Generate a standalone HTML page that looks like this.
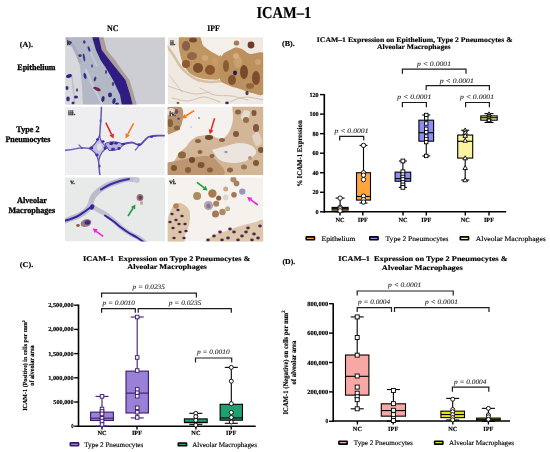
<!DOCTYPE html>
<html><head><meta charset="utf-8"><style>
html,body{margin:0;padding:0;background:#fff;overflow:hidden;width:550px;height:452px;}
svg{display:block;}
text{white-space:pre;text-rendering:geometricPrecision;}
</style></head><body>
<svg width="550" height="452" viewBox="0 0 550 452">
<defs><clipPath id="cp_i"><rect x="65.3" y="37.2" width="99.89999999999999" height="67.3"/></clipPath><clipPath id="cp_ii"><rect x="167.6" y="37.2" width="95.6" height="67.3"/></clipPath><clipPath id="cp_iii"><rect x="65.0" y="106.7" width="99.80000000000001" height="68.3"/></clipPath><clipPath id="cp_iv"><rect x="167.6" y="106.7" width="95.6" height="68.3"/></clipPath><clipPath id="cp_v"><rect x="65.0" y="177.3" width="100.30000000000001" height="64.29999999999998"/></clipPath><clipPath id="cp_vi"><rect x="167.6" y="177.3" width="95.6" height="64.29999999999998"/></clipPath><filter id="bl" x="-20%" y="-20%" width="140%" height="140%"><feGaussianBlur stdDeviation="0.7"/></filter><filter id="bl2" x="-20%" y="-20%" width="140%" height="140%"><feGaussianBlur stdDeviation="1.6"/></filter><filter id="bl3" x="-20%" y="-20%" width="140%" height="140%"><feGaussianBlur stdDeviation="0.4"/></filter></defs>
<rect width="550" height="452" fill="#fff"/>
<text x="256.4" y="18.3" font-size="16.5" text-anchor="start" font-weight="bold" font-style="normal" fill="#000" font-family='"Liberation Serif", serif' stroke="#000" stroke-width="0.16" textLength="54.8" lengthAdjust="spacingAndGlyphs" >ICAM–1</text>
<text x="107" y="31.1" font-size="8.6" text-anchor="start" font-weight="bold" font-style="normal" fill="#000" font-family='"Liberation Serif", serif' stroke="#000" stroke-width="0.16" textLength="11.6" lengthAdjust="spacingAndGlyphs" >NC</text>
<text x="207.2" y="31.1" font-size="8.6" text-anchor="start" font-weight="bold" font-style="normal" fill="#000" font-family='"Liberation Serif", serif' stroke="#000" stroke-width="0.16" textLength="12.5" lengthAdjust="spacingAndGlyphs" >IPF</text>
<text x="19.8" y="46.8" font-size="8" text-anchor="start" font-weight="bold" font-style="normal" fill="#000" font-family='"Liberation Serif", serif' stroke="#000" stroke-width="0.16" textLength="13.2" lengthAdjust="spacingAndGlyphs" >(A).</text>
<text x="17.3" y="69.7" font-size="8.6" text-anchor="start" font-weight="bold" font-style="normal" fill="#000" font-family='"Liberation Serif", serif' stroke="#000" stroke-width="0.3" textLength="38.2" lengthAdjust="spacingAndGlyphs" >Epithelium</text>
<text x="16.3" y="131.7" font-size="8.6" text-anchor="start" font-weight="bold" font-style="normal" fill="#000" font-family='"Liberation Serif", serif' stroke="#000" stroke-width="0.3" textLength="23.2" lengthAdjust="spacingAndGlyphs" >Type 2</text>
<text x="5.4" y="141.5" font-size="8.6" text-anchor="start" font-weight="bold" font-style="normal" fill="#000" font-family='"Liberation Serif", serif' stroke="#000" stroke-width="0.3" textLength="44.9" lengthAdjust="spacingAndGlyphs" >Pneumocytes</text>
<text x="17" y="202.5" font-size="8.6" text-anchor="start" font-weight="bold" font-style="normal" fill="#000" font-family='"Liberation Serif", serif' stroke="#000" stroke-width="0.3" textLength="30" lengthAdjust="spacingAndGlyphs" >Alveolar</text>
<text x="8.4" y="213.4" font-size="8.6" text-anchor="start" font-weight="bold" font-style="normal" fill="#000" font-family='"Liberation Serif", serif' stroke="#000" stroke-width="0.3" textLength="46.7" lengthAdjust="spacingAndGlyphs" >Macrophages</text>
<g clip-path="url(#cp_i)"><rect x="65.3" y="37.2" width="99.89999999999999" height="67.3" fill="#cdced3"/><g filter="url(#bl)">
<path d="M64.0,46.0 L64.0,106.0 L83.0,106.0 L82.5,96.0 L82.0,86.0 L81.0,76.0 L80.0,66.0 L78.0,56.0 L72.0,48.0 L66.0,42.0 Z" fill="#d6d8dc" opacity="1"/>
<path d="M64.0,36.0 L70.0,42.0 L75.0,48.0 L78.0,56.0 L80.0,66.0 L81.0,76.0 L82.0,86.0 L82.5,96.0 L83.0,106.0 L122.0,106.0 L120.0,95.0 L113.0,80.0 L105.9,68.0 L100.5,60.0 L95.9,50.0 L91.8,36.0 Z" fill="#b3b8c7" opacity="1"/>
<path d="M98.6,36.0 L101.8,50.0 L109.5,60.0 L115.9,68.0 L125.5,80.0 L130.3,95.0 L133.0,106.0 L137.0,106.0 L134.0,95.0 L129.5,80.0 L120.5,68.0 L115.0,60.0 L106.8,50.0 L103.2,36.0 Z" fill="#aa9c98" opacity="1"/>
<path d="M91.8,36.0 L95.9,50.0 L100.5,60.0 L105.9,68.0 L113.0,80.0 L120.0,95.0 L122.0,106.0 L133.0,106.0 L130.3,95.0 L125.5,80.0 L115.9,68.0 L109.5,60.0 L101.8,50.0 L98.6,36.0 Z" fill="#2d1c80" opacity="1"/>
<path d="M67.0,39.0 C68.0,40.2 71.3,43.5 73.0,46.0 C74.7,48.5 75.8,51.3 77.0,54.0 C78.2,56.7 79.5,60.7 80.0,62.0" fill="none" stroke="#a6acbe" stroke-width="3" stroke-linecap="round" stroke-linejoin="round" opacity="1"/>
<path d="M72.0,76.0 C72.2,77.7 72.7,82.7 73.0,86.0 C73.3,89.3 73.7,92.7 74.0,96.0 C74.3,99.3 74.8,104.3 75.0,106.0" fill="none" stroke="#bcc0cc" stroke-width="1.5" stroke-linecap="round" stroke-linejoin="round" opacity="1"/>
<path d="M86.0,70.0 C86.8,72.0 89.2,78.0 91.0,82.0 C92.8,86.0 95.2,90.3 97.0,94.0 C98.8,97.7 101.2,102.3 102.0,104.0" fill="none" stroke="#c6cad6" stroke-width="2.2" stroke-linecap="round" stroke-linejoin="round" opacity="1"/>
<path d="M90.0,50.0 C90.5,51.3 91.8,55.3 93.0,58.0 C94.2,60.7 96.3,64.7 97.0,66.0" fill="none" stroke="#c6cad6" stroke-width="1.6" stroke-linecap="round" stroke-linejoin="round" opacity="1"/>
<ellipse cx="68" cy="99" rx="1.8" ry="2.4" fill="#3a2a88" opacity="1" transform="rotate(0 68 99)"/>
<ellipse cx="73" cy="103" rx="1.5" ry="1.5" fill="#3a2a88" opacity="1" transform="rotate(0 73 103)"/>
<ellipse cx="77" cy="90" rx="1.2" ry="1.8" fill="#5a4a90" opacity="1" transform="rotate(0 77 90)"/>
<ellipse cx="69.5" cy="42.5" rx="2.4" ry="1.6" fill="#4a3a78" opacity="1" transform="rotate(0 69.5 42.5)"/>
<ellipse cx="84.3" cy="42" rx="1.2" ry="1.8" fill="#3a2a88" opacity="1" transform="rotate(0 84.3 42)"/>
<ellipse cx="80" cy="55.5" rx="1.6" ry="1.6" fill="#5a2a68" opacity="1" transform="rotate(0 80 55.5)"/>
<ellipse cx="84" cy="57.5" rx="1" ry="4" fill="#3a34a0" opacity="1" transform="rotate(-10 84 57.5)"/>
<ellipse cx="69" cy="76" rx="3" ry="1.8" fill="#2d2085" opacity="1" transform="rotate(-20 69 76)"/>
<ellipse cx="85" cy="76" rx="1.4" ry="3" fill="#35288e" opacity="1" transform="rotate(-15 85 76)"/>
<ellipse cx="97" cy="89" rx="4" ry="1.6" fill="#6a2848" opacity="1" transform="rotate(25 97 89)"/>
<ellipse cx="103" cy="99" rx="1.6" ry="3" fill="#3a2070" opacity="1" transform="rotate(10 103 99)"/>
<ellipse cx="110" cy="95" rx="2" ry="2.4" fill="#2d2a8e" opacity="1" transform="rotate(0 110 95)"/>
<ellipse cx="76" cy="97" rx="2" ry="1.6" fill="#2e2880" opacity="1" transform="rotate(0 76 97)"/>
<ellipse cx="67" cy="88" rx="1.5" ry="2" fill="#30288a" opacity="1" transform="rotate(0 67 88)"/>
<ellipse cx="89" cy="49" rx="1.1" ry="3" fill="#3d2d90" opacity="1" transform="rotate(-20 89 49)"/>
<ellipse cx="95" cy="79" rx="1.2" ry="2.5" fill="#46368e" opacity="1" transform="rotate(20 95 79)"/>
<ellipse cx="114" cy="101" rx="1.6" ry="3" fill="#2e2690" opacity="1" transform="rotate(15 114 101)"/>
<ellipse cx="117" cy="104" rx="2" ry="1.5" fill="#2e2690" opacity="1" transform="rotate(0 117 104)"/>
<ellipse cx="113" cy="84" rx="1.2" ry="2" fill="#4a3a8e" opacity="1" transform="rotate(0 113 84)"/>
<ellipse cx="106" cy="72" rx="1" ry="2" fill="#4a3a8e" opacity="1" transform="rotate(0 106 72)"/>
<ellipse cx="92" cy="66" rx="1" ry="1.8" fill="#5a4a9a" opacity="1" transform="rotate(0 92 66)"/>
</g></g>
<g clip-path="url(#cp_ii)"><rect x="167.6" y="37.2" width="95.6" height="67.3" fill="#efe9e2"/><g filter="url(#bl)">
<path d="M167.0,46.0 C168.2,47.7 171.8,52.7 174.0,56.0 C176.2,59.3 177.7,63.0 180.0,66.0 C182.3,69.0 185.0,71.7 188.0,74.0 C191.0,76.3 194.3,78.7 198.0,80.0 C201.7,81.3 206.0,81.8 210.0,82.0 C214.0,82.2 220.0,81.2 222.0,81.0" fill="none" stroke="#d8c0a4" stroke-width="2.5" stroke-linecap="round" stroke-linejoin="round" opacity="1"/>
<path d="M179.0,36.0 C182.5,36.0 196.0,34.5 200.0,36.0 C204.0,37.5 201.0,42.3 203.0,45.0 C205.0,47.7 209.0,50.2 212.0,52.0 C215.0,53.8 219.5,51.8 221.0,56.0 C222.5,60.2 222.7,73.1 221.0,77.0 C219.3,80.9 214.8,79.4 211.0,79.5 C207.2,79.6 201.8,78.8 198.0,77.5 C194.2,76.2 190.7,74.2 188.0,71.5 C185.3,68.8 183.5,64.9 182.0,61.0 C180.5,57.1 179.5,52.2 179.0,48.0 C178.5,43.8 179.0,38.0 179.0,36.0 Z" fill="#bf9562" opacity="1"/>
<path d="M221.0,57.0 C221.8,56.0 224.0,52.7 226.0,51.0 C228.0,49.3 230.3,47.3 233.0,47.0 C235.7,46.7 239.2,47.8 242.0,49.0 C244.8,50.2 246.2,53.0 250.0,54.0 C253.8,55.0 262.5,48.7 265.0,55.0 C267.5,61.3 267.2,85.7 265.0,92.0 C262.8,98.3 256.2,93.5 252.0,93.0 C247.8,92.5 244.0,90.3 240.0,89.0 C236.0,87.7 231.3,86.7 228.0,85.0 C224.7,83.3 221.2,83.7 220.0,79.0 C218.8,74.3 220.8,60.7 221.0,57.0 Z" fill="#bb9160" opacity="1"/>
<path d="M200.0,36.0 L242.0,36.0 L238.0,46.0 L230.0,50.0 L224.0,53.0 L219.0,56.0 L212.0,52.0 L203.0,45.0 Z" fill="#f3efea" opacity="1"/>
<ellipse cx="186" cy="46" rx="4" ry="5" fill="#8a5e48" opacity="1" transform="rotate(0 186 46)"/>
<ellipse cx="192" cy="56" rx="5" ry="4" fill="#946646" opacity="1" transform="rotate(0 192 56)"/>
<ellipse cx="186" cy="64" rx="4" ry="4" fill="#8e5a36" opacity="1" transform="rotate(0 186 64)"/>
<ellipse cx="198" cy="68" rx="5" ry="5" fill="#7e4e2e" opacity="1" transform="rotate(0 198 68)"/>
<ellipse cx="210" cy="70" rx="5" ry="5" fill="#8a5632" opacity="1" transform="rotate(0 210 70)"/>
<ellipse cx="205" cy="58" rx="3" ry="3" fill="#d2a672" opacity="1" transform="rotate(0 205 58)"/>
<ellipse cx="215" cy="62" rx="3" ry="4" fill="#c89a66" opacity="1" transform="rotate(0 215 62)"/>
<ellipse cx="193" cy="40" rx="4" ry="2.5" fill="#7a4a30" opacity="1" transform="rotate(0 193 40)"/>
<ellipse cx="226" cy="66" rx="3" ry="6" fill="#8a5a36" opacity="1" transform="rotate(0 226 66)"/>
<ellipse cx="238" cy="62" rx="4" ry="6" fill="#c9a070" opacity="1" transform="rotate(0 238 62)"/>
<ellipse cx="244" cy="72" rx="4" ry="7" fill="#7a4a2c" opacity="1" transform="rotate(0 244 72)"/>
<ellipse cx="256" cy="78" rx="4" ry="7" fill="#7e4e2e" opacity="1" transform="rotate(0 256 78)"/>
<ellipse cx="232" cy="80" rx="4" ry="5" fill="#84522e" opacity="1" transform="rotate(0 232 80)"/>
<ellipse cx="250" cy="86" rx="4" ry="3" fill="#94663e" opacity="1" transform="rotate(0 250 86)"/>
<ellipse cx="236" cy="56" rx="3" ry="3" fill="#d6ae78" opacity="1" transform="rotate(0 236 56)"/>
<ellipse cx="258" cy="62" rx="3" ry="3" fill="#d0a470" opacity="1" transform="rotate(0 258 62)"/>
<ellipse cx="251" cy="45" rx="3.4" ry="3.4" fill="#6e3a28" opacity="1" transform="rotate(0 251 45)"/>
<ellipse cx="236.5" cy="43" rx="2.8" ry="2.6" fill="#a87a50" opacity="1" transform="rotate(0 236.5 43)"/>
<ellipse cx="235" cy="73" rx="2" ry="2.4" fill="#241c58" opacity="1" transform="rotate(0 235 73)"/>
<path d="M168.0,86.0 C170.0,86.7 175.5,88.7 180.0,90.0 C184.5,91.3 190.0,93.7 195.0,94.0 C200.0,94.3 207.5,92.3 210.0,92.0" fill="none" stroke="#d0c0b4" stroke-width="1.0" stroke-linecap="round" stroke-linejoin="round" opacity="1"/>
<path d="M172.0,98.0 C174.7,98.5 182.7,101.2 188.0,101.0 C193.3,100.8 198.7,96.8 204.0,97.0 C209.3,97.2 217.3,101.2 220.0,102.0" fill="none" stroke="#d0c0b4" stroke-width="1.0" stroke-linecap="round" stroke-linejoin="round" opacity="1"/>
<path d="M200.0,88.0 C202.5,89.2 209.7,93.7 215.0,95.0 C220.3,96.3 226.5,95.2 232.0,96.0 C237.5,96.8 245.3,99.3 248.0,100.0" fill="none" stroke="#d0c0b4" stroke-width="1.0" stroke-linecap="round" stroke-linejoin="round" opacity="1"/>
<path d="M230.0,102.0 C232.5,101.2 239.3,97.3 245.0,97.0 C250.7,96.7 260.8,99.5 264.0,100.0" fill="none" stroke="#d0c0b4" stroke-width="1.0" stroke-linecap="round" stroke-linejoin="round" opacity="1"/>
<path d="M170.0,76.0 C171.0,77.3 174.0,81.3 176.0,84.0 C178.0,86.7 181.0,90.7 182.0,92.0" fill="none" stroke="#d0c0b4" stroke-width="1.0" stroke-linecap="round" stroke-linejoin="round" opacity="1"/>
<ellipse cx="247" cy="93" rx="1.6" ry="2.2" fill="#5a3a4a" opacity="1" transform="rotate(0 247 93)"/>
<ellipse cx="227" cy="103" rx="1.8" ry="1.4" fill="#3a3060" opacity="1" transform="rotate(0 227 103)"/>
<ellipse cx="178" cy="103" rx="1.4" ry="1.2" fill="#8a6040" opacity="1" transform="rotate(0 178 103)"/>
</g></g>
<g clip-path="url(#cp_iii)"><rect x="65.0" y="106.7" width="99.80000000000001" height="68.3" fill="#eeeef0"/><g filter="url(#bl)">
<path d="M101.5,106.0 C101.4,108.0 101.2,114.3 101.0,118.0 C100.8,121.7 100.4,124.8 100.2,128.0 C100.0,131.2 99.7,135.5 99.6,137.0" fill="none" stroke="#6a5ab0" stroke-width="1.5" stroke-linecap="round" stroke-linejoin="round" opacity="1"/>
<path d="M64.0,150.5 C65.3,150.3 69.3,149.9 72.0,149.5 C74.7,149.1 77.7,148.2 80.0,148.0 C82.3,147.8 84.3,147.9 86.0,148.0 C87.7,148.1 89.3,148.4 90.0,148.5" fill="none" stroke="#7a6ab8" stroke-width="1.6" stroke-linecap="round" stroke-linejoin="round" opacity="1"/>
<path d="M81.0,147.0 C80.7,146.7 79.3,145.3 79.0,145.0" fill="none" stroke="#7a6ab8" stroke-width="1.2" stroke-linecap="round" stroke-linejoin="round" opacity="1"/>
<path d="M99.5,135.5 Q101,144 108,147.5 Q101,150.5 98.5,161 Q96,151 89,148.5 Q96,145 99.5,135.5 Z" fill="#c4c0dc" stroke="#5a4eb0" stroke-width="1.1"/>
<ellipse cx="99.5" cy="147" rx="2.6" ry="3.6" fill="#e0deea" opacity="1" transform="rotate(0 99.5 147)"/>
<path d="M105,143.5 Q114,139.5 124,144.5 Q118,151.5 109,150.5 Z" fill="#bab4da" stroke="#4a40a8" stroke-width="1"/>
<path d="M122.0,144.5 C123.0,144.2 126.2,143.3 128.0,143.0 C129.8,142.7 130.7,142.3 132.6,142.6 C134.5,142.9 137.7,145.3 139.6,145.0 C141.5,144.7 142.5,142.3 144.0,141.0 C145.5,139.7 146.9,137.8 148.4,137.0 C149.9,136.2 151.4,136.2 153.0,136.0 C154.6,135.8 155.5,135.8 157.7,135.7 C159.9,135.6 164.6,135.7 166.0,135.7" fill="none" stroke="#6048b0" stroke-width="1.8" stroke-linecap="round" stroke-linejoin="round" opacity="1"/>
<path d="M139.6,145.0 C139.2,145.4 138.2,146.7 137.5,147.5 C136.8,148.3 135.8,149.6 135.4,150.0" fill="none" stroke="#8070c0" stroke-width="1.4" stroke-linecap="round" stroke-linejoin="round" opacity="1"/>
<path d="M98.5,160.0 C98.6,161.0 98.8,164.0 99.0,166.0 C99.2,168.0 99.3,170.3 99.5,172.0 C99.7,173.7 99.9,175.3 100.0,176.0" fill="none" stroke="#6a5ab0" stroke-width="1.6" stroke-linecap="round" stroke-linejoin="round" opacity="1"/>
<ellipse cx="97.5" cy="139.5" rx="1.5" ry="1.3" fill="#3028a8" opacity="1" transform="rotate(0 97.5 139.5)"/>
<ellipse cx="103" cy="141.5" rx="1.6" ry="1.3" fill="#3028a8" opacity="1" transform="rotate(0 103 141.5)"/>
<ellipse cx="91.5" cy="148" rx="1.8" ry="1.4" fill="#3434b0" opacity="1" transform="rotate(0 91.5 148)"/>
<ellipse cx="105" cy="148" rx="1.4" ry="1.8" fill="#2c2ca8" opacity="1" transform="rotate(0 105 148)"/>
<ellipse cx="97" cy="155" rx="1.6" ry="1.4" fill="#3434b0" opacity="1" transform="rotate(0 97 155)"/>
<ellipse cx="111.5" cy="143.5" rx="2.4" ry="1.4" fill="#2a22a0" opacity="1" transform="rotate(-10 111.5 143.5)"/>
<ellipse cx="116" cy="143.2" rx="1.8" ry="1.2" fill="#3028a8" opacity="1" transform="rotate(0 116 143.2)"/>
<ellipse cx="113" cy="149" rx="2" ry="1.3" fill="#3a30ac" opacity="1" transform="rotate(0 113 149)"/>
<ellipse cx="119" cy="148.5" rx="1.6" ry="1.4" fill="#3028a8" opacity="1" transform="rotate(0 119 148.5)"/>
<ellipse cx="123.5" cy="144" rx="1.6" ry="1.2" fill="#3a30ac" opacity="1" transform="rotate(0 123.5 144)"/>
<ellipse cx="139" cy="144.5" rx="1.6" ry="1.2" fill="#3a30ac" opacity="1" transform="rotate(0 139 144.5)"/>
<ellipse cx="151.5" cy="136.8" rx="1.8" ry="1.1" fill="#3a30ac" opacity="1" transform="rotate(0 151.5 136.8)"/>
<ellipse cx="99.5" cy="166" rx="1.1" ry="1.6" fill="#4a40b0" opacity="1" transform="rotate(0 99.5 166)"/>
<ellipse cx="82" cy="148" rx="1.2" ry="1" fill="#5050b8" opacity="1" transform="rotate(0 82 148)"/>
<ellipse cx="100.5" cy="121" rx="0.9" ry="1.4" fill="#5a50b8" opacity="1" transform="rotate(0 100.5 121)"/>
</g></g>
<line x1="105.8" y1="122.6" x2="111.6" y2="134.6" stroke="#e8231f" stroke-width="1.5"/>
<path d="M113.6,138.6 L109.4,135.6 L113.9,133.5 Z" fill="#e8231f"/>
<line x1="133.6" y1="123.4" x2="127.7" y2="134.4" stroke="#f27a1e" stroke-width="1.5"/>
<path d="M125.6,138.4 L125.5,133.3 L129.9,135.6 Z" fill="#f27a1e"/>
<text x="68.0" y="114.7" font-size="6.9" font-weight="bold" fill="#2a2a2a" stroke="#2a2a2a" stroke-width="0.25" font-family='"Liberation Serif", serif'>iii.</text>
<g clip-path="url(#cp_iv)"><rect x="167.6" y="106.7" width="95.6" height="68.3" fill="#f4f1ee"/><g filter="url(#bl)">
<path d="M167.0,107.0 C169.3,107.0 178.3,105.3 181.0,107.0 C183.7,108.7 183.2,113.5 183.0,117.0 C182.8,120.5 181.8,125.3 180.0,128.0 C178.2,130.7 174.2,132.3 172.0,133.0 C169.8,133.7 167.8,136.3 167.0,132.0 C166.2,127.7 167.0,111.2 167.0,107.0 Z" fill="#b9936c" opacity="1"/>
<path d="M232.0,106.0 C237.5,106.0 259.5,94.3 265.0,106.0 C270.5,117.7 281.5,164.3 265.0,176.0 C248.5,187.7 182.5,177.7 166.0,176.0 C149.5,174.3 164.7,168.5 166.0,166.0 C167.3,163.5 171.8,163.2 174.0,161.0 C176.2,158.8 177.0,155.3 179.0,153.0 C181.0,150.7 184.2,148.8 186.0,147.0 C187.8,145.2 187.9,143.7 189.6,142.0 C191.3,140.3 193.8,138.1 196.0,137.0 C198.2,135.9 200.7,135.8 203.0,135.5 C205.3,135.2 207.1,134.4 210.0,135.0 C212.9,135.6 217.8,138.8 220.5,139.0 C223.2,139.2 224.3,137.7 226.0,136.0 C227.7,134.3 229.3,132.0 230.5,129.0 C231.7,126.0 232.8,121.8 233.0,118.0 C233.2,114.2 232.2,108.0 232.0,106.0 Z" fill="#d2b697" opacity="1"/>
<path d="M166.0,163.0 C170.0,162.2 183.5,159.2 190.0,158.0 C196.5,156.8 200.7,155.7 205.0,156.0 C209.3,156.3 213.2,156.7 216.0,160.0 C218.8,163.3 230.3,173.3 222.0,176.0 C213.7,178.7 175.3,178.2 166.0,176.0 C156.7,173.8 166.0,165.2 166.0,163.0 Z" fill="#bc9670" opacity="1"/>
<path d="M212.0,150.0 C214.3,149.3 221.3,147.2 226.0,146.0 C230.7,144.8 235.7,143.0 240.0,143.0 C244.3,143.0 249.3,144.3 252.0,146.0 C254.7,147.7 256.7,150.7 256.0,153.0 C255.3,155.3 251.7,158.3 248.0,160.0 C244.3,161.7 238.7,163.0 234.0,163.0 C229.3,163.0 223.7,162.2 220.0,160.0 C216.3,157.8 213.3,151.7 212.0,150.0 Z" fill="#ece5df" opacity="1"/>
<path d="M244.0,110.0 C245.0,110.3 249.5,110.2 250.0,112.0 C250.5,113.8 248.5,120.0 247.0,121.0 C245.5,122.0 241.5,119.8 241.0,118.0 C240.5,116.2 243.5,111.3 244.0,110.0 Z" fill="#e6dacb" opacity="1"/>
<path d="M252.0,136.0 C253.0,135.3 256.3,131.0 258.0,132.0 C259.7,133.0 262.3,139.7 262.0,142.0 C261.7,144.3 257.7,147.0 256.0,146.0 C254.3,145.0 252.7,137.7 252.0,136.0 Z" fill="#e0d2c2" opacity="1"/>
<ellipse cx="170" cy="123" rx="3" ry="4" fill="#86603c" opacity="1" transform="rotate(0 170 123)"/>
<ellipse cx="177" cy="128" rx="3" ry="2.5" fill="#8a6440" opacity="1" transform="rotate(0 177 128)"/>
<ellipse cx="209" cy="137.5" rx="4" ry="2.4" fill="#6a4628" opacity="1" transform="rotate(0 209 137.5)"/>
<ellipse cx="198" cy="141" rx="3" ry="2" fill="#8a6440" opacity="1" transform="rotate(0 198 141)"/>
<ellipse cx="222" cy="140" rx="3" ry="2" fill="#8a6440" opacity="1" transform="rotate(0 222 140)"/>
<ellipse cx="236" cy="134" rx="3" ry="3" fill="#7e5838" opacity="1" transform="rotate(0 236 134)"/>
<ellipse cx="246" cy="120" rx="3" ry="3" fill="#936c48" opacity="1" transform="rotate(0 246 120)"/>
<ellipse cx="256" cy="128" rx="3" ry="4" fill="#7e5838" opacity="1" transform="rotate(0 256 128)"/>
<ellipse cx="238" cy="112" rx="3" ry="2.5" fill="#8a6440" opacity="1" transform="rotate(0 238 112)"/>
<ellipse cx="254" cy="113" rx="2.5" ry="3" fill="#7e5838" opacity="1" transform="rotate(0 254 113)"/>
<ellipse cx="261" cy="150" rx="3" ry="3" fill="#7e5838" opacity="1" transform="rotate(0 261 150)"/>
<ellipse cx="182" cy="155" rx="4" ry="3.5" fill="#8e6640" opacity="1" transform="rotate(0 182 155)"/>
<ellipse cx="192" cy="160" rx="3" ry="3" fill="#6e4a30" opacity="1" transform="rotate(0 192 160)"/>
<ellipse cx="201" cy="165" rx="3.5" ry="3" fill="#7a5434" opacity="1" transform="rotate(0 201 165)"/>
<ellipse cx="188" cy="170" rx="3" ry="3" fill="#86603c" opacity="1" transform="rotate(0 188 170)"/>
<ellipse cx="174" cy="168" rx="3" ry="3" fill="#7a5434" opacity="1" transform="rotate(0 174 168)"/>
<ellipse cx="210" cy="170" rx="3" ry="2.5" fill="#86603c" opacity="1" transform="rotate(0 210 170)"/>
<ellipse cx="230" cy="170" rx="3" ry="2.5" fill="#8a6440" opacity="1" transform="rotate(0 230 170)"/>
<ellipse cx="244" cy="167" rx="3" ry="2.5" fill="#9a7450" opacity="1" transform="rotate(0 244 167)"/>
<ellipse cx="256" cy="163" rx="3" ry="3" fill="#7e5838" opacity="1" transform="rotate(0 256 163)"/>
<ellipse cx="200" cy="152" rx="2.5" ry="2" fill="#8a6440" opacity="1" transform="rotate(0 200 152)"/>
<ellipse cx="212" cy="156" rx="2.5" ry="2" fill="#8a6440" opacity="1" transform="rotate(0 212 156)"/>
<ellipse cx="226" cy="152" rx="1.6" ry="1.2" fill="#9a90b8" opacity="1" transform="rotate(0 226 152)"/>
<ellipse cx="250" cy="158" rx="2" ry="2" fill="#b89878" opacity="1" transform="rotate(0 250 158)"/>
<ellipse cx="178.6" cy="118.8" rx="1.3" ry="1.3" fill="#3050b0" opacity="1" transform="rotate(0 178.6 118.8)"/>
<ellipse cx="171" cy="112" rx="4.5" ry="4" fill="#e6d8cc" opacity="1" transform="rotate(0 171 112)"/>
<ellipse cx="176.5" cy="111.5" rx="1.8" ry="2.6" fill="#7a4868" opacity="1" transform="rotate(0 176.5 111.5)"/>
<ellipse cx="199" cy="118" rx="1" ry="0.7" fill="#5a5a8a" opacity="1" transform="rotate(0 199 118)"/>
<ellipse cx="191" cy="127" rx="0.6" ry="0.6" fill="#7a7aa0" opacity="1" transform="rotate(0 191 127)"/>
</g></g>
<line x1="194.2" y1="110.6" x2="185.6" y2="116.0" stroke="#f27a1e" stroke-width="1.5"/>
<path d="M181.8,118.4 L184.3,113.9 L186.9,118.1 Z" fill="#f27a1e"/>
<line x1="214.6" y1="118.2" x2="211.1" y2="129.9" stroke="#e8231f" stroke-width="1.5"/>
<path d="M209.8,134.2 L208.7,129.2 L213.5,130.6 Z" fill="#e8231f"/>
<text x="169.3" y="116.4" font-size="6.9" font-weight="bold" fill="#2a2a2a" stroke="#2a2a2a" stroke-width="0.25" font-family='"Liberation Serif", serif'>iv.</text>
<g clip-path="url(#cp_v)"><rect x="65.0" y="177.3" width="100.30000000000001" height="64.29999999999998" fill="#e8eaea"/><g filter="url(#bl)">
<path d="M137.0,180.0 C135.5,179.8 131.2,178.6 128.0,178.8 C124.8,179.1 121.3,180.5 118.0,181.5 C114.7,182.5 111.2,183.5 108.0,185.0 C104.8,186.5 101.5,188.5 99.0,190.5 C96.5,192.5 94.4,194.8 93.0,197.0 C91.6,199.2 91.5,201.8 90.5,204.0 C89.5,206.2 88.9,208.1 87.0,210.0 C85.1,211.9 81.8,214.0 79.0,215.5 C76.2,217.0 72.7,218.0 70.0,219.0 C67.3,220.0 64.2,221.1 63.0,221.5" fill="none" stroke="#bdbacb" stroke-width="5.5" stroke-linecap="round" stroke-linejoin="round" opacity="1"/>
<path d="M90.0,205.0 C91.3,205.8 95.3,208.4 98.0,210.0 C100.7,211.6 103.3,212.7 106.0,214.5 C108.7,216.3 111.3,218.8 114.0,221.0 C116.7,223.2 119.3,225.9 122.0,228.0 C124.7,230.1 127.3,231.9 130.0,233.5 C132.7,235.1 135.3,235.9 138.0,237.5 C140.7,239.1 144.7,242.1 146.0,243.0" fill="none" stroke="#c2c0d0" stroke-width="4.6" stroke-linecap="round" stroke-linejoin="round" opacity="1"/>
<ellipse cx="136" cy="179.8" rx="3" ry="2" fill="#c8c6d2" opacity="1" transform="rotate(0 136 179.8)"/>
<path d="M129.0,178.9 C127.5,179.2 123.2,180.1 120.0,181.0 C116.8,181.9 113.2,183.1 110.0,184.5 C106.8,185.9 102.5,188.7 101.0,189.5" fill="none" stroke="#3a2ea8" stroke-width="2.0" stroke-linecap="round" stroke-linejoin="round" opacity="1"/>
<path d="M91.0,207.0 C89.8,207.8 86.3,210.4 84.0,212.0 C81.7,213.6 79.3,215.3 77.0,216.5 C74.7,217.7 72.3,218.4 70.0,219.2 C67.7,219.9 64.2,220.7 63.0,221.0" fill="none" stroke="#3228a0" stroke-width="2.0" stroke-linecap="round" stroke-linejoin="round" opacity="1"/>
<path d="M105.0,215.5 C106.3,216.4 110.3,219.0 113.0,221.0 C115.7,223.0 118.3,225.5 121.0,227.5 C123.7,229.5 126.3,231.3 129.0,233.0 C131.7,234.7 134.3,235.8 137.0,237.5 C139.7,239.2 143.7,242.1 145.0,243.0" fill="none" stroke="#3228a0" stroke-width="2.0" stroke-linecap="round" stroke-linejoin="round" opacity="1"/>
<ellipse cx="92" cy="207" rx="2.2" ry="2.8" fill="#3028a0" opacity="1" transform="rotate(20 92 207)"/>
<ellipse cx="140" cy="197.5" rx="3.4" ry="3.6" fill="#9a7070" opacity="1" transform="rotate(0 140 197.5)"/>
<ellipse cx="140.3" cy="197.8" rx="1.8" ry="2.0" fill="#5a4070" opacity="1" transform="rotate(0 140.3 197.8)"/>
<ellipse cx="141.5" cy="203" rx="1.6" ry="2" fill="#c8a890" opacity="1" transform="rotate(0 141.5 203)"/>
<ellipse cx="86" cy="223" rx="5.5" ry="3.8" fill="#9a7880" opacity="1" transform="rotate(-20 86 223)"/>
<ellipse cx="87.5" cy="222.5" rx="2.8" ry="2.2" fill="#3a2a8a" opacity="1" transform="rotate(0 87.5 222.5)"/>
<ellipse cx="78" cy="225.5" rx="1.8" ry="1.4" fill="#8a5a40" opacity="1" transform="rotate(0 78 225.5)"/>
</g></g>
<line x1="128" y1="216" x2="133.0" y2="208.2" stroke="#19a23c" stroke-width="1.6"/>
<path d="M135.4,204.4 L135.1,209.5 L130.9,206.9 Z" fill="#19a23c"/>
<line x1="103.2" y1="236.4" x2="96.2" y2="231.3" stroke="#f020e0" stroke-width="1.6"/>
<path d="M92.6,228.6 L97.7,229.3 L94.8,233.3 Z" fill="#f020e0"/>
<text x="70.2" y="184.4" font-size="6.9" font-weight="bold" fill="#2a2a2a" stroke="#2a2a2a" stroke-width="0.25" font-family='"Liberation Serif", serif'>v.</text>
<g clip-path="url(#cp_vi)"><rect x="167.6" y="177.3" width="95.6" height="64.29999999999998" fill="#f5f2ee"/><g filter="url(#bl)">
<path d="M170.0,212.0 C170.7,210.8 172.3,206.5 174.0,205.0 C175.7,203.5 177.8,202.7 180.0,203.0 C182.2,203.3 185.3,205.2 187.0,207.0 C188.7,208.8 189.7,211.0 190.0,214.0 C190.3,217.0 189.8,221.5 189.0,225.0 C188.2,228.5 186.0,232.0 185.0,235.0 C184.0,238.0 186.2,241.7 183.0,243.0 C179.8,244.3 168.8,245.8 166.0,243.0 C163.2,240.2 165.3,231.2 166.0,226.0 C166.7,220.8 169.3,214.3 170.0,212.0 Z" fill="#dcc4a6" opacity="1"/>
<path d="M203.0,243.0 C204.8,241.7 210.2,237.0 214.0,235.0 C217.8,233.0 221.7,232.5 226.0,231.0 C230.3,229.5 235.3,227.4 240.0,226.0 C244.7,224.6 250.0,223.3 254.0,222.5 C258.0,221.7 262.3,217.6 264.0,221.0 C265.7,224.4 274.2,239.3 264.0,243.0 C253.8,246.7 213.2,243.0 203.0,243.0 Z" fill="#dec8ac" opacity="1"/>
<ellipse cx="225.7" cy="197.4" rx="3" ry="3" fill="#e2d6cc" opacity="1" transform="rotate(0 225.7 197.4)"/>
<ellipse cx="197.1" cy="196.1" rx="4" ry="4" fill="#b08a62" opacity="1" transform="rotate(0 197.1 196.1)"/>
<ellipse cx="212.4" cy="193.5" rx="4.2" ry="4.2" fill="#a87a50" opacity="1" transform="rotate(0 212.4 193.5)"/>
<ellipse cx="218.7" cy="198" rx="2.6" ry="2.6" fill="#8e6040" opacity="1" transform="rotate(0 218.7 198)"/>
<ellipse cx="208.5" cy="205.6" rx="4.6" ry="4.6" fill="#b8a4a8" opacity="1" transform="rotate(0 208.5 205.6)"/>
<ellipse cx="216.2" cy="203.7" rx="3" ry="3" fill="#a8805c" opacity="1" transform="rotate(0 216.2 203.7)"/>
<ellipse cx="215.5" cy="213.9" rx="3.5" ry="3.5" fill="#a27a58" opacity="1" transform="rotate(0 215.5 213.9)"/>
<ellipse cx="222.5" cy="212" rx="3.2" ry="3.2" fill="#b08a66" opacity="1" transform="rotate(0 222.5 212)"/>
<ellipse cx="227.6" cy="208.8" rx="2.5" ry="2.5" fill="#c4a88c" opacity="1" transform="rotate(0 227.6 208.8)"/>
<ellipse cx="225.7" cy="189.1" rx="2.5" ry="2.5" fill="#c8a890" opacity="1" transform="rotate(0 225.7 189.1)"/>
<ellipse cx="234" cy="194.8" rx="2.8" ry="2.8" fill="#a07858" opacity="1" transform="rotate(0 234 194.8)"/>
<ellipse cx="233.4" cy="179.5" rx="3" ry="3" fill="#b08a66" opacity="1" transform="rotate(0 233.4 179.5)"/>
<ellipse cx="236.5" cy="183.4" rx="2.8" ry="2.8" fill="#a88060" opacity="1" transform="rotate(0 236.5 183.4)"/>
<ellipse cx="242.3" cy="191.6" rx="3.2" ry="3.2" fill="#9c96b8" opacity="1" transform="rotate(0 242.3 191.6)"/>
<ellipse cx="176" cy="206" rx="2.8" ry="2.8" fill="#b08456" opacity="1" transform="rotate(0 176 206)"/>
<ellipse cx="172" cy="214" rx="1.7" ry="1.3" fill="#4a2850" opacity="1" transform="rotate(0 172 214)"/>
<ellipse cx="176" cy="220" rx="1.7" ry="1.3" fill="#4a2850" opacity="1" transform="rotate(0 176 220)"/>
<ellipse cx="182" cy="216" rx="1.7" ry="1.3" fill="#4a2850" opacity="1" transform="rotate(0 182 216)"/>
<ellipse cx="173" cy="228" rx="1.7" ry="1.3" fill="#4a2850" opacity="1" transform="rotate(0 173 228)"/>
<ellipse cx="180" cy="232" rx="1.7" ry="1.3" fill="#4a2850" opacity="1" transform="rotate(0 180 232)"/>
<ellipse cx="185" cy="224" rx="1.7" ry="1.3" fill="#4a2850" opacity="1" transform="rotate(0 185 224)"/>
<ellipse cx="174" cy="238" rx="1.7" ry="1.3" fill="#4a2850" opacity="1" transform="rotate(0 174 238)"/>
<ellipse cx="184" cy="238" rx="1.7" ry="1.3" fill="#4a2850" opacity="1" transform="rotate(0 184 238)"/>
<ellipse cx="178" cy="210" rx="1.7" ry="1.3" fill="#4a2850" opacity="1" transform="rotate(0 178 210)"/>
<ellipse cx="170" cy="222" rx="1.7" ry="1.3" fill="#4a2850" opacity="1" transform="rotate(0 170 222)"/>
<ellipse cx="186" cy="231" rx="1.7" ry="1.3" fill="#4a2850" opacity="1" transform="rotate(0 186 231)"/>
<ellipse cx="179" cy="224" rx="1.7" ry="1.3" fill="#4a2850" opacity="1" transform="rotate(0 179 224)"/>
<ellipse cx="214" cy="236" rx="1.8" ry="1.4" fill="#4a2850" opacity="1" transform="rotate(0 214 236)"/>
<ellipse cx="220" cy="232" rx="1.8" ry="1.4" fill="#4a2850" opacity="1" transform="rotate(0 220 232)"/>
<ellipse cx="228" cy="238" rx="1.8" ry="1.4" fill="#4a2850" opacity="1" transform="rotate(0 228 238)"/>
<ellipse cx="234" cy="232" rx="1.8" ry="1.4" fill="#4a2850" opacity="1" transform="rotate(0 234 232)"/>
<ellipse cx="242" cy="236" rx="1.8" ry="1.4" fill="#4a2850" opacity="1" transform="rotate(0 242 236)"/>
<ellipse cx="248" cy="228" rx="1.8" ry="1.4" fill="#4a2850" opacity="1" transform="rotate(0 248 228)"/>
<ellipse cx="254" cy="234" rx="1.8" ry="1.4" fill="#4a2850" opacity="1" transform="rotate(0 254 234)"/>
<ellipse cx="260" cy="226" rx="1.8" ry="1.4" fill="#4a2850" opacity="1" transform="rotate(0 260 226)"/>
<ellipse cx="222" cy="240" rx="1.8" ry="1.4" fill="#4a2850" opacity="1" transform="rotate(0 222 240)"/>
<ellipse cx="238" cy="240" rx="1.8" ry="1.4" fill="#4a2850" opacity="1" transform="rotate(0 238 240)"/>
<ellipse cx="252" cy="240" rx="1.8" ry="1.4" fill="#4a2850" opacity="1" transform="rotate(0 252 240)"/>
<ellipse cx="230" cy="229" rx="1.8" ry="1.4" fill="#4a2850" opacity="1" transform="rotate(0 230 229)"/>
<ellipse cx="246" cy="232" rx="1.8" ry="1.4" fill="#4a2850" opacity="1" transform="rotate(0 246 232)"/>
<ellipse cx="258" cy="238" rx="1.8" ry="1.4" fill="#4a2850" opacity="1" transform="rotate(0 258 238)"/>
<ellipse cx="208" cy="240" rx="1.8" ry="1.4" fill="#4a2850" opacity="1" transform="rotate(0 208 240)"/>
<ellipse cx="208.5" cy="206" rx="2.2" ry="2.6" fill="#7a78a8" opacity="1" transform="rotate(0 208.5 206)"/>
</g></g>
<line x1="196.9" y1="182.3" x2="204.0" y2="187.7" stroke="#19a23c" stroke-width="1.6"/>
<path d="M207.6,190.4 L202.5,189.7 L205.5,185.7 Z" fill="#19a23c"/>
<line x1="257.8" y1="205" x2="250.8" y2="199.7" stroke="#f020e0" stroke-width="1.6"/>
<path d="M247.2,197 L252.3,197.7 L249.3,201.7 Z" fill="#f020e0"/>
<text x="169.2" y="184.1" font-size="6.9" font-weight="bold" fill="#2a2a2a" stroke="#2a2a2a" stroke-width="0.25" font-family='"Liberation Serif", serif'>vi.</text>
<text x="66.8" y="44.8" font-size="6.9" font-weight="bold" fill="#2a2a2a" stroke="#2a2a2a" stroke-width="0.25" font-family='"Liberation Serif", serif'>i.</text>
<text x="170.0" y="44.7" font-size="6.9" font-weight="bold" fill="#2a2a2a" stroke="#2a2a2a" stroke-width="0.25" font-family='"Liberation Serif", serif'>ii.</text>
<line x1="324.3" y1="94.0" x2="324.3" y2="212.6" stroke="#000" stroke-width="1.6" />
<line x1="323.5" y1="211.8" x2="506.2" y2="211.8" stroke="#000" stroke-width="1.6" />
<line x1="320" y1="211.8" x2="324.3" y2="211.8" stroke="#000" stroke-width="1.4" />
<text x="318.7" y="213.9" font-size="6.2" text-anchor="end" font-weight="bold" font-style="normal" fill="#000" font-family='"Liberation Serif", serif' stroke="#000" stroke-width="0.16" >0</text>
<line x1="320" y1="192.26666666666668" x2="324.3" y2="192.26666666666668" stroke="#000" stroke-width="1.4" />
<text x="318.7" y="194.36666666666667" font-size="6.2" text-anchor="end" font-weight="bold" font-style="normal" fill="#000" font-family='"Liberation Serif", serif' stroke="#000" stroke-width="0.16" >20</text>
<line x1="320" y1="172.73333333333335" x2="324.3" y2="172.73333333333335" stroke="#000" stroke-width="1.4" />
<text x="318.7" y="174.83333333333334" font-size="6.2" text-anchor="end" font-weight="bold" font-style="normal" fill="#000" font-family='"Liberation Serif", serif' stroke="#000" stroke-width="0.16" >40</text>
<line x1="320" y1="153.20000000000002" x2="324.3" y2="153.20000000000002" stroke="#000" stroke-width="1.4" />
<text x="318.7" y="155.3" font-size="6.2" text-anchor="end" font-weight="bold" font-style="normal" fill="#000" font-family='"Liberation Serif", serif' stroke="#000" stroke-width="0.16" >60</text>
<line x1="320" y1="133.66666666666669" x2="324.3" y2="133.66666666666669" stroke="#000" stroke-width="1.4" />
<text x="318.7" y="135.76666666666668" font-size="6.2" text-anchor="end" font-weight="bold" font-style="normal" fill="#000" font-family='"Liberation Serif", serif' stroke="#000" stroke-width="0.16" >80</text>
<line x1="320" y1="114.13333333333334" x2="324.3" y2="114.13333333333334" stroke="#000" stroke-width="1.4" />
<text x="318.7" y="116.23333333333333" font-size="6.2" text-anchor="end" font-weight="bold" font-style="normal" fill="#000" font-family='"Liberation Serif", serif' stroke="#000" stroke-width="0.16" >100</text>
<line x1="320" y1="94.60000000000001" x2="324.3" y2="94.60000000000001" stroke="#000" stroke-width="1.4" />
<text x="318.7" y="96.7" font-size="6.2" text-anchor="end" font-weight="bold" font-style="normal" fill="#000" font-family='"Liberation Serif", serif' stroke="#000" stroke-width="0.16" >120</text>
<line x1="340" y1="211.8" x2="340" y2="215.4" stroke="#000" stroke-width="1.4" />
<text x="340" y="222.1" font-size="6.3" text-anchor="middle" font-weight="bold" font-style="normal" fill="#000" font-family='"Liberation Serif", serif' stroke="#000" stroke-width="0.16" >NC</text>
<line x1="362.8" y1="211.8" x2="362.8" y2="215.4" stroke="#000" stroke-width="1.4" />
<text x="362.8" y="222.1" font-size="6.3" text-anchor="middle" font-weight="bold" font-style="normal" fill="#000" font-family='"Liberation Serif", serif' stroke="#000" stroke-width="0.16" >IPF</text>
<line x1="403" y1="211.8" x2="403" y2="215.4" stroke="#000" stroke-width="1.4" />
<text x="403" y="222.1" font-size="6.3" text-anchor="middle" font-weight="bold" font-style="normal" fill="#000" font-family='"Liberation Serif", serif' stroke="#000" stroke-width="0.16" >NC</text>
<line x1="426.3" y1="211.8" x2="426.3" y2="215.4" stroke="#000" stroke-width="1.4" />
<text x="426.3" y="222.1" font-size="6.3" text-anchor="middle" font-weight="bold" font-style="normal" fill="#000" font-family='"Liberation Serif", serif' stroke="#000" stroke-width="0.16" >IPF</text>
<line x1="465.3" y1="211.8" x2="465.3" y2="215.4" stroke="#000" stroke-width="1.4" />
<text x="465.3" y="222.1" font-size="6.3" text-anchor="middle" font-weight="bold" font-style="normal" fill="#000" font-family='"Liberation Serif", serif' stroke="#000" stroke-width="0.16" >NC</text>
<line x1="489" y1="211.8" x2="489" y2="215.4" stroke="#000" stroke-width="1.4" />
<text x="489" y="222.1" font-size="6.3" text-anchor="middle" font-weight="bold" font-style="normal" fill="#000" font-family='"Liberation Serif", serif' stroke="#000" stroke-width="0.16" >IPF</text>
<text x="0" y="0" font-size="7.3" text-anchor="middle" font-weight="bold" font-style="normal" fill="#000" font-family='"Liberation Serif", serif' stroke="#000" stroke-width="0.16" textLength="66.5" lengthAdjust="spacingAndGlyphs" transform="translate(302.2,153.6) rotate(-90)">% ICAM-1 Expression</text>
<text x="282" y="45.5" font-size="7.5" text-anchor="start" font-weight="bold" font-style="normal" fill="#000" font-family='"Liberation Serif", serif' stroke="#000" stroke-width="0.16" textLength="12.7" lengthAdjust="spacingAndGlyphs" >(B).</text>
<text x="414.7" y="41.8" font-size="7.0" text-anchor="middle" font-weight="bold" font-style="normal" fill="#000" font-family='"Liberation Serif", serif' stroke="#000" stroke-width="0.16" textLength="195.8" lengthAdjust="spacingAndGlyphs" >ICAM–1 Expression on Epithelium, Type 2 Pneumocytes &amp;</text>
<text x="413.8" y="49.1" font-size="7.0" text-anchor="middle" font-weight="bold" font-style="normal" fill="#000" font-family='"Liberation Serif", serif' stroke="#000" stroke-width="0.16" textLength="73.5" lengthAdjust="spacingAndGlyphs" >Alveolar Macrophages</text>
<line x1="340.1" y1="198.12666666666667" x2="340.1" y2="207.405" stroke="#000" stroke-width="1.1" />
<line x1="340.1" y1="210.042" x2="340.1" y2="211.8" stroke="#000" stroke-width="1.1" />
<line x1="335.6" y1="198.12666666666667" x2="344.6" y2="198.12666666666667" stroke="#000" stroke-width="1.1" />
<line x1="335.6" y1="211.8" x2="344.6" y2="211.8" stroke="#000" stroke-width="1.1" />
<rect x="332.1" y="207.405" width="16" height="2.6370000000000005" fill="#ffa53a" stroke="#000" stroke-width="1.1" />
<line x1="332.1" y1="208.67466666666667" x2="348.1" y2="208.67466666666667" stroke="#000" stroke-width="1.1" />
<circle cx="340.10" cy="198.13" r="2.2" fill="#fff" stroke="#000" stroke-width="0.9"/>
<circle cx="340.10" cy="207.41" r="2.2" fill="#fff" stroke="#000" stroke-width="0.9"/>
<circle cx="340.10" cy="208.87" r="2.2" fill="#fff" stroke="#000" stroke-width="0.9"/>
<circle cx="340.10" cy="210.82" r="2.2" fill="#fff" stroke="#000" stroke-width="0.9"/>
<line x1="363.5" y1="145.38666666666666" x2="363.5" y2="172.73333333333335" stroke="#000" stroke-width="1.1" />
<line x1="363.5" y1="200.08" x2="363.5" y2="203.01000000000002" stroke="#000" stroke-width="1.1" />
<line x1="359.5" y1="145.38666666666666" x2="367.5" y2="145.38666666666666" stroke="#000" stroke-width="1.1" />
<line x1="359.5" y1="203.01000000000002" x2="367.5" y2="203.01000000000002" stroke="#000" stroke-width="1.1" />
<rect x="356.5" y="172.73333333333335" width="14" height="27.346666666666664" fill="#ffa53a" stroke="#000" stroke-width="1.1" />
<line x1="356.5" y1="196.46633333333335" x2="370.5" y2="196.46633333333335" stroke="#000" stroke-width="1.1" />
<circle cx="363.50" cy="145.39" r="2.2" fill="#fff" stroke="#000" stroke-width="0.9"/>
<circle cx="363.50" cy="172.73" r="2.2" fill="#fff" stroke="#000" stroke-width="0.9"/>
<circle cx="363.50" cy="175.18" r="2.2" fill="#fff" stroke="#000" stroke-width="0.9"/>
<circle cx="363.50" cy="179.57" r="2.2" fill="#fff" stroke="#000" stroke-width="0.9"/>
<circle cx="363.50" cy="196.17" r="2.2" fill="#fff" stroke="#000" stroke-width="0.9"/>
<circle cx="363.50" cy="199.59" r="2.2" fill="#fff" stroke="#000" stroke-width="0.9"/>
<circle cx="363.50" cy="202.03" r="2.2" fill="#fff" stroke="#000" stroke-width="0.9"/>
<line x1="402.9" y1="161.01333333333335" x2="402.9" y2="172.14733333333334" stroke="#000" stroke-width="1.1" />
<line x1="402.9" y1="181.23033333333333" x2="402.9" y2="187.38333333333335" stroke="#000" stroke-width="1.1" />
<line x1="398.9" y1="161.01333333333335" x2="406.9" y2="161.01333333333335" stroke="#000" stroke-width="1.1" />
<line x1="398.9" y1="187.38333333333335" x2="406.9" y2="187.38333333333335" stroke="#000" stroke-width="1.1" />
<rect x="395.09999999999997" y="172.14733333333334" width="15.6" height="9.082999999999998" fill="#8c8cf5" stroke="#000" stroke-width="1.1" />
<line x1="395.09999999999997" y1="178.59333333333333" x2="410.7" y2="178.59333333333333" stroke="#000" stroke-width="1.1" />
<rect x="401.00" y="159.11" width="3.80" height="3.80" fill="#fff" stroke="#000" stroke-width="0.9"/>
<rect x="401.00" y="169.86" width="3.80" height="3.80" fill="#fff" stroke="#000" stroke-width="0.9"/>
<rect x="401.00" y="172.79" width="3.80" height="3.80" fill="#fff" stroke="#000" stroke-width="0.9"/>
<rect x="401.00" y="175.23" width="3.80" height="3.80" fill="#fff" stroke="#000" stroke-width="0.9"/>
<rect x="401.00" y="177.67" width="3.80" height="3.80" fill="#fff" stroke="#000" stroke-width="0.9"/>
<rect x="401.00" y="180.60" width="3.80" height="3.80" fill="#fff" stroke="#000" stroke-width="0.9"/>
<rect x="401.00" y="183.04" width="3.80" height="3.80" fill="#fff" stroke="#000" stroke-width="0.9"/>
<rect x="401.00" y="185.48" width="3.80" height="3.80" fill="#fff" stroke="#000" stroke-width="0.9"/>
<line x1="426.25" y1="115.01233333333334" x2="426.25" y2="120.18866666666668" stroke="#000" stroke-width="1.1" />
<line x1="426.25" y1="141.187" x2="426.25" y2="155.93466666666666" stroke="#000" stroke-width="1.1" />
<line x1="422.25" y1="115.01233333333334" x2="430.25" y2="115.01233333333334" stroke="#000" stroke-width="1.1" />
<line x1="422.25" y1="155.93466666666666" x2="430.25" y2="155.93466666666666" stroke="#000" stroke-width="1.1" />
<rect x="418.9" y="120.18866666666668" width="14.7" height="20.998333333333335" fill="#8c8cf5" stroke="#000" stroke-width="1.1" />
<line x1="418.9" y1="132.69" x2="433.6" y2="132.69" stroke="#000" stroke-width="1.1" />
<rect x="424.55" y="113.31" width="3.40" height="3.40" fill="#fff" stroke="#000" stroke-width="0.9"/>
<rect x="424.55" y="116.63" width="3.40" height="3.40" fill="#fff" stroke="#000" stroke-width="0.9"/>
<rect x="424.55" y="121.81" width="3.40" height="3.40" fill="#fff" stroke="#000" stroke-width="0.9"/>
<rect x="424.55" y="127.08" width="3.40" height="3.40" fill="#fff" stroke="#000" stroke-width="0.9"/>
<rect x="424.55" y="130.40" width="3.40" height="3.40" fill="#fff" stroke="#000" stroke-width="0.9"/>
<rect x="424.55" y="134.80" width="3.40" height="3.40" fill="#fff" stroke="#000" stroke-width="0.9"/>
<rect x="424.55" y="137.34" width="3.40" height="3.40" fill="#fff" stroke="#000" stroke-width="0.9"/>
<rect x="424.55" y="140.37" width="3.40" height="3.40" fill="#fff" stroke="#000" stroke-width="0.9"/>
<rect x="424.55" y="154.23" width="3.40" height="3.40" fill="#fff" stroke="#000" stroke-width="0.9"/>
<line x1="465.2" y1="130.24833333333333" x2="465.2" y2="135.03400000000002" stroke="#000" stroke-width="1.1" />
<line x1="465.2" y1="158.08333333333334" x2="465.2" y2="180.05833333333334" stroke="#000" stroke-width="1.1" />
<line x1="461.2" y1="130.24833333333333" x2="469.2" y2="130.24833333333333" stroke="#000" stroke-width="1.1" />
<line x1="461.2" y1="180.05833333333334" x2="469.2" y2="180.05833333333334" stroke="#000" stroke-width="1.1" />
<rect x="457.7" y="135.03400000000002" width="15.0" height="23.049333333333323" fill="#fbf3a0" stroke="#000" stroke-width="1.1" />
<line x1="457.7" y1="141.28466666666668" x2="472.7" y2="141.28466666666668" stroke="#000" stroke-width="1.1" />
<path d="M465.20,127.95 L467.50,131.97 L462.90,131.97 Z" fill="#fff" stroke="#000" stroke-width="0.9"/>
<path d="M465.20,130.39 L467.50,134.41 L462.90,134.41 Z" fill="#fff" stroke="#000" stroke-width="0.9"/>
<path d="M465.20,133.32 L467.50,137.34 L462.90,137.34 Z" fill="#fff" stroke="#000" stroke-width="0.9"/>
<path d="M465.20,138.20 L467.50,142.23 L462.90,142.23 Z" fill="#fff" stroke="#000" stroke-width="0.9"/>
<path d="M465.20,155.78 L467.50,159.81 L462.90,159.81 Z" fill="#fff" stroke="#000" stroke-width="0.9"/>
<path d="M465.20,165.55 L467.50,169.58 L462.90,169.58 Z" fill="#fff" stroke="#000" stroke-width="0.9"/>
<path d="M465.20,177.76 L467.50,181.78 L462.90,181.78 Z" fill="#fff" stroke="#000" stroke-width="0.9"/>
<line x1="489.0" y1="113.64500000000001" x2="489.0" y2="115.89133333333334" stroke="#000" stroke-width="1.1" />
<line x1="489.0" y1="120.18866666666668" x2="489.0" y2="122.43500000000002" stroke="#000" stroke-width="1.1" />
<line x1="484.5" y1="113.64500000000001" x2="493.5" y2="113.64500000000001" stroke="#000" stroke-width="1.1" />
<line x1="484.5" y1="122.43500000000002" x2="493.5" y2="122.43500000000002" stroke="#000" stroke-width="1.1" />
<rect x="480.8" y="115.89133333333334" width="16.4" height="4.297333333333341" fill="#fbf3a0" stroke="#000" stroke-width="1.1" />
<line x1="480.8" y1="117.74700000000001" x2="497.2" y2="117.74700000000001" stroke="#000" stroke-width="1.1" />
<path d="M489.00,111.83 L491.30,115.86 L486.70,115.86 Z" fill="#fff" stroke="#000" stroke-width="0.9"/>
<path d="M489.00,113.79 L491.30,117.81 L486.70,117.81 Z" fill="#fff" stroke="#000" stroke-width="0.9"/>
<path d="M489.00,115.74 L491.30,119.77 L486.70,119.77 Z" fill="#fff" stroke="#000" stroke-width="0.9"/>
<path d="M489.00,117.69 L491.30,121.72 L486.70,121.72 Z" fill="#fff" stroke="#000" stroke-width="0.9"/>
<path d="M339.7,140.6 L339.7,136.3 L363.7,136.3 L363.7,140.6" fill="none" stroke="#1c1c1c" stroke-width="1.2"/>
<text x="351.5" y="132.89999999999998" font-size="6.8" text-anchor="middle" font-weight="normal" font-style="italic" fill="#2e2e2e" font-family='"Liberation Serif", serif' textLength="34" lengthAdjust="spacingAndGlyphs" stroke="#2e2e2e" stroke-width="0.12">p &lt; 0.0001</text>
<path d="M402.4,73.8 L402.4,69.2 L466.0,69.2 L466.0,73.8" fill="none" stroke="#1c1c1c" stroke-width="1.2"/>
<text x="434" y="65.7" font-size="6.8" text-anchor="middle" font-weight="normal" font-style="italic" fill="#2e2e2e" font-family='"Liberation Serif", serif' textLength="34" lengthAdjust="spacingAndGlyphs" stroke="#2e2e2e" stroke-width="0.12">p &lt; 0.0001</text>
<path d="M426.2,90.2 L426.2,85.7 L489.4,85.7 L489.4,90.2" fill="none" stroke="#1c1c1c" stroke-width="1.2"/>
<text x="456.8" y="82.5" font-size="6.8" text-anchor="middle" font-weight="normal" font-style="italic" fill="#2e2e2e" font-family='"Liberation Serif", serif' textLength="34" lengthAdjust="spacingAndGlyphs" stroke="#2e2e2e" stroke-width="0.12">p &lt; 0.0001</text>
<path d="M402.4,107.2 L402.4,102.5 L426.4,102.5 L426.4,107.2" fill="none" stroke="#1c1c1c" stroke-width="1.2"/>
<text x="414.3" y="99.10000000000001" font-size="6.8" text-anchor="middle" font-weight="normal" font-style="italic" fill="#2e2e2e" font-family='"Liberation Serif", serif' textLength="34" lengthAdjust="spacingAndGlyphs" stroke="#2e2e2e" stroke-width="0.12">p &lt; 0.0001</text>
<path d="M465.6,107.2 L465.6,102.5 L489.4,102.5 L489.4,107.2" fill="none" stroke="#1c1c1c" stroke-width="1.2"/>
<text x="477" y="99.10000000000001" font-size="6.8" text-anchor="middle" font-weight="normal" font-style="italic" fill="#2e2e2e" font-family='"Liberation Serif", serif' textLength="34" lengthAdjust="spacingAndGlyphs" stroke="#2e2e2e" stroke-width="0.12">p &lt; 0.0001</text>
<rect x="306.2" y="236.9" width="8.299999999999999" height="2.8" rx="0.4" fill="#ffa53a" stroke="#000" stroke-width="1.6"/>
<text x="321.5" y="240.8" font-size="7.0" text-anchor="start" font-weight="normal" font-style="normal" fill="#000" font-family='"Liberation Serif", serif' textLength="34" lengthAdjust="spacingAndGlyphs" stroke="#000" stroke-width="0.14">Epithelium</text>
<rect x="369.8" y="236.9" width="8.299999999999999" height="2.8" rx="0.4" fill="#8c8cf5" stroke="#000" stroke-width="1.6"/>
<text x="385.5" y="240.8" font-size="7.0" text-anchor="start" font-weight="normal" font-style="normal" fill="#000" font-family='"Liberation Serif", serif' textLength="63" lengthAdjust="spacingAndGlyphs" stroke="#000" stroke-width="0.14">Type 2 Pneumocytes</text>
<rect x="460.3" y="236.9" width="8.299999999999999" height="2.8" rx="0.4" fill="#fbf3a0" stroke="#000" stroke-width="1.6"/>
<text x="475.8" y="240.8" font-size="7.0" text-anchor="start" font-weight="normal" font-style="normal" fill="#000" font-family='"Liberation Serif", serif' textLength="70" lengthAdjust="spacingAndGlyphs" stroke="#000" stroke-width="0.14">Alveolar Macrophages</text>
<line x1="78.5" y1="304.5" x2="78.5" y2="427" stroke="#000" stroke-width="1.6" />
<line x1="77.7" y1="426.2" x2="255.7" y2="426.2" stroke="#000" stroke-width="1.6" />
<line x1="74.2" y1="426.2" x2="78.5" y2="426.2" stroke="#000" stroke-width="1.4" />
<text x="73.6" y="428.2" font-size="6.1" text-anchor="end" font-weight="bold" font-style="normal" fill="#000" font-family='"Liberation Serif", serif' stroke="#000" stroke-width="0.16" textLength="2.4" lengthAdjust="spacingAndGlyphs" >0</text>
<line x1="74.2" y1="402.0" x2="78.5" y2="402.0" stroke="#000" stroke-width="1.4" />
<text x="73.6" y="404.0" font-size="6.1" text-anchor="end" font-weight="bold" font-style="normal" fill="#000" font-family='"Liberation Serif", serif' stroke="#000" stroke-width="0.16" textLength="20.3" lengthAdjust="spacingAndGlyphs" >500,000</text>
<line x1="74.2" y1="377.8" x2="78.5" y2="377.8" stroke="#000" stroke-width="1.4" />
<text x="73.6" y="379.8" font-size="6.1" text-anchor="end" font-weight="bold" font-style="normal" fill="#000" font-family='"Liberation Serif", serif' stroke="#000" stroke-width="0.16" textLength="25.4" lengthAdjust="spacingAndGlyphs" >1,000,000</text>
<line x1="74.2" y1="353.6" x2="78.5" y2="353.6" stroke="#000" stroke-width="1.4" />
<text x="73.6" y="355.6" font-size="6.1" text-anchor="end" font-weight="bold" font-style="normal" fill="#000" font-family='"Liberation Serif", serif' stroke="#000" stroke-width="0.16" textLength="25.4" lengthAdjust="spacingAndGlyphs" >1,500,000</text>
<line x1="74.2" y1="329.4" x2="78.5" y2="329.4" stroke="#000" stroke-width="1.4" />
<text x="73.6" y="331.4" font-size="6.1" text-anchor="end" font-weight="bold" font-style="normal" fill="#000" font-family='"Liberation Serif", serif' stroke="#000" stroke-width="0.16" textLength="25.4" lengthAdjust="spacingAndGlyphs" >2,000,000</text>
<line x1="74.2" y1="305.2" x2="78.5" y2="305.2" stroke="#000" stroke-width="1.4" />
<text x="73.6" y="307.2" font-size="6.1" text-anchor="end" font-weight="bold" font-style="normal" fill="#000" font-family='"Liberation Serif", serif' stroke="#000" stroke-width="0.16" textLength="25.4" lengthAdjust="spacingAndGlyphs" >2,500,000</text>
<line x1="102" y1="426.2" x2="102" y2="429.5" stroke="#000" stroke-width="1.4" />
<text x="102" y="435.3" font-size="6.3" text-anchor="middle" font-weight="bold" font-style="normal" fill="#000" font-family='"Liberation Serif", serif' stroke="#000" stroke-width="0.16" >NC</text>
<line x1="137" y1="426.2" x2="137" y2="429.5" stroke="#000" stroke-width="1.4" />
<text x="137" y="435.3" font-size="6.3" text-anchor="middle" font-weight="bold" font-style="normal" fill="#000" font-family='"Liberation Serif", serif' stroke="#000" stroke-width="0.16" >IPF</text>
<line x1="195.9" y1="426.2" x2="195.9" y2="429.5" stroke="#000" stroke-width="1.4" />
<text x="195.9" y="435.3" font-size="6.3" text-anchor="middle" font-weight="bold" font-style="normal" fill="#000" font-family='"Liberation Serif", serif' stroke="#000" stroke-width="0.16" >NC</text>
<line x1="231.2" y1="426.2" x2="231.2" y2="429.5" stroke="#000" stroke-width="1.4" />
<text x="231.2" y="435.3" font-size="6.3" text-anchor="middle" font-weight="bold" font-style="normal" fill="#000" font-family='"Liberation Serif", serif' stroke="#000" stroke-width="0.16" >IPF</text>
<text x="19.8" y="267.2" font-size="7.5" text-anchor="start" font-weight="bold" font-style="normal" fill="#000" font-family='"Liberation Serif", serif' stroke="#000" stroke-width="0.16" textLength="13.5" lengthAdjust="spacingAndGlyphs" >(C).</text>
<text x="166.8" y="261.2" font-size="7.1" text-anchor="middle" font-weight="bold" font-style="normal" fill="#000" font-family='"Liberation Serif", serif' stroke="#000" stroke-width="0.16" textLength="167.4" lengthAdjust="spacingAndGlyphs" >ICAM–1  Expression on Type 2 Pneumocytes &amp;</text>
<text x="167" y="269.0" font-size="7.1" text-anchor="middle" font-weight="bold" font-style="normal" fill="#000" font-family='"Liberation Serif", serif' stroke="#000" stroke-width="0.16" textLength="79.5" lengthAdjust="spacingAndGlyphs" >Alveolar Macrophages</text>
<text x="0" y="0" font-size="6.2" text-anchor="middle" font-weight="bold" font-style="normal" fill="#000" font-family='"Liberation Serif", serif' stroke="#000" stroke-width="0.16" textLength="90.5" lengthAdjust="spacingAndGlyphs" transform="translate(27.0,365.5) rotate(-90)">ICAM-1 (Positive) in cells per mm<tspan font-size="4" dy="-2.5">2</tspan></text>
<text x="0" y="0" font-size="6.8" text-anchor="middle" font-weight="bold" font-style="normal" fill="#000" font-family='"Liberation Serif", serif' stroke="#000" stroke-width="0.16" textLength="40.3" lengthAdjust="spacingAndGlyphs" transform="translate(34.0,365.5) rotate(-90)">of alveolar area</text>
<line x1="102" y1="396.3856" x2="102" y2="412.1156" stroke="#3b1a6e" stroke-width="1.1" />
<line x1="102" y1="420.48879999999997" x2="102" y2="426.2" stroke="#3b1a6e" stroke-width="1.1" />
<line x1="95.5" y1="396.3856" x2="108.5" y2="396.3856" stroke="#3b1a6e" stroke-width="1.1" />
<line x1="95.5" y1="426.2" x2="108.5" y2="426.2" stroke="#3b1a6e" stroke-width="1.1" />
<rect x="90.6" y="412.1156" width="22.8" height="8.373199999999997" fill="#9b80d8" stroke="#3b1a6e" stroke-width="1.1" />
<line x1="90.6" y1="418.214" x2="113.4" y2="418.214" stroke="#3b1a6e" stroke-width="1.1" />
<rect x="100.20" y="394.59" width="3.60" height="3.60" fill="#f4f2ec" stroke="#3b1a6e" stroke-width="0.9"/>
<rect x="100.20" y="407.22" width="3.60" height="3.60" fill="#f4f2ec" stroke="#3b1a6e" stroke-width="0.9"/>
<rect x="100.20" y="409.69" width="3.60" height="3.60" fill="#f4f2ec" stroke="#3b1a6e" stroke-width="0.9"/>
<rect x="100.20" y="412.11" width="3.60" height="3.60" fill="#f4f2ec" stroke="#3b1a6e" stroke-width="0.9"/>
<rect x="100.20" y="416.51" width="3.60" height="3.60" fill="#f4f2ec" stroke="#3b1a6e" stroke-width="0.9"/>
<rect x="100.20" y="419.22" width="3.60" height="3.60" fill="#f4f2ec" stroke="#3b1a6e" stroke-width="0.9"/>
<rect x="100.20" y="422.71" width="3.60" height="3.60" fill="#f4f2ec" stroke="#3b1a6e" stroke-width="0.9"/>
<line x1="137.2" y1="317.0096" x2="137.2" y2="371.1208" stroke="#3b1a6e" stroke-width="1.1" />
<line x1="137.2" y1="412.9868" x2="137.2" y2="417.92359999999996" stroke="#3b1a6e" stroke-width="1.1" />
<line x1="130.7" y1="317.0096" x2="143.7" y2="317.0096" stroke="#3b1a6e" stroke-width="1.1" />
<line x1="130.7" y1="417.92359999999996" x2="143.7" y2="417.92359999999996" stroke="#3b1a6e" stroke-width="1.1" />
<rect x="125.99999999999999" y="371.1208" width="22.4" height="41.86600000000004" fill="#9b80d8" stroke="#3b1a6e" stroke-width="1.1" />
<line x1="125.99999999999999" y1="393.0944" x2="148.39999999999998" y2="393.0944" stroke="#3b1a6e" stroke-width="1.1" />
<rect x="135.40" y="315.21" width="3.60" height="3.60" fill="#f4f2ec" stroke="#3b1a6e" stroke-width="0.9"/>
<rect x="135.40" y="355.67" width="3.60" height="3.60" fill="#f4f2ec" stroke="#3b1a6e" stroke-width="0.9"/>
<rect x="135.40" y="368.74" width="3.60" height="3.60" fill="#f4f2ec" stroke="#3b1a6e" stroke-width="0.9"/>
<rect x="135.40" y="387.62" width="3.60" height="3.60" fill="#f4f2ec" stroke="#3b1a6e" stroke-width="0.9"/>
<rect x="135.40" y="391.00" width="3.60" height="3.60" fill="#f4f2ec" stroke="#3b1a6e" stroke-width="0.9"/>
<rect x="135.40" y="394.39" width="3.60" height="3.60" fill="#f4f2ec" stroke="#3b1a6e" stroke-width="0.9"/>
<rect x="135.40" y="406.01" width="3.60" height="3.60" fill="#f4f2ec" stroke="#3b1a6e" stroke-width="0.9"/>
<rect x="135.40" y="410.36" width="3.60" height="3.60" fill="#f4f2ec" stroke="#3b1a6e" stroke-width="0.9"/>
<rect x="135.40" y="415.69" width="3.60" height="3.60" fill="#f4f2ec" stroke="#3b1a6e" stroke-width="0.9"/>
<line x1="195.8" y1="413.3256" x2="195.8" y2="418.8916" stroke="#000" stroke-width="1.1" />
<line x1="195.8" y1="422.6184" x2="195.8" y2="424.31239999999997" stroke="#000" stroke-width="1.1" />
<line x1="189.3" y1="413.3256" x2="202.3" y2="413.3256" stroke="#000" stroke-width="1.1" />
<line x1="189.3" y1="424.31239999999997" x2="202.3" y2="424.31239999999997" stroke="#000" stroke-width="1.1" />
<rect x="184.4" y="418.8916" width="22.8" height="3.7268000000000256" fill="#1fa070" stroke="#000" stroke-width="1.1" />
<line x1="184.4" y1="422.328" x2="207.20000000000002" y2="422.328" stroke="#000" stroke-width="1.1" />
<circle cx="195.80" cy="413.33" r="2.0" fill="#fff" stroke="#000" stroke-width="0.9"/>
<circle cx="195.80" cy="416.62" r="2.0" fill="#fff" stroke="#000" stroke-width="0.9"/>
<circle cx="195.80" cy="420.30" r="2.0" fill="#fff" stroke="#000" stroke-width="0.9"/>
<circle cx="195.80" cy="425.09" r="2.0" fill="#fff" stroke="#000" stroke-width="0.9"/>
<line x1="231.3" y1="367.394" x2="231.3" y2="404.3232" stroke="#000" stroke-width="1.1" />
<line x1="231.3" y1="420.1984" x2="231.3" y2="423.296" stroke="#000" stroke-width="1.1" />
<line x1="224.8" y1="367.394" x2="237.8" y2="367.394" stroke="#000" stroke-width="1.1" />
<line x1="224.8" y1="423.296" x2="237.8" y2="423.296" stroke="#000" stroke-width="1.1" />
<rect x="220.10000000000002" y="404.3232" width="22.4" height="15.875200000000007" fill="#1fa070" stroke="#000" stroke-width="1.1" />
<line x1="220.10000000000002" y1="417.92359999999996" x2="242.5" y2="417.92359999999996" stroke="#000" stroke-width="1.1" />
<circle cx="231.30" cy="367.39" r="2.0" fill="#fff" stroke="#000" stroke-width="0.9"/>
<circle cx="231.30" cy="381.19" r="2.0" fill="#fff" stroke="#000" stroke-width="0.9"/>
<circle cx="231.30" cy="403.69" r="2.0" fill="#fff" stroke="#000" stroke-width="0.9"/>
<circle cx="231.30" cy="412.41" r="2.0" fill="#fff" stroke="#000" stroke-width="0.9"/>
<circle cx="231.30" cy="417.49" r="2.0" fill="#fff" stroke="#000" stroke-width="0.9"/>
<circle cx="231.30" cy="421.99" r="2.0" fill="#fff" stroke="#000" stroke-width="0.9"/>
<path d="M101.6,297.6 L101.6,293.2 L196.4,293.2 L196.4,297.6" fill="none" stroke="#1c1c1c" stroke-width="1.2"/>
<text x="148.7" y="289.3" font-size="6.8" text-anchor="middle" font-weight="normal" font-style="italic" fill="#2e2e2e" font-family='"Liberation Serif", serif' textLength="32.6" lengthAdjust="spacingAndGlyphs" stroke="#2e2e2e" stroke-width="0.12">p = 0.0235</text>
<path d="M101.6,312.8 L101.6,308.6 L135.3,308.6 L135.3,312.8" fill="none" stroke="#1c1c1c" stroke-width="1.2"/>
<text x="118.7" y="304.5" font-size="6.8" text-anchor="middle" font-weight="normal" font-style="italic" fill="#2e2e2e" font-family='"Liberation Serif", serif' textLength="32.5" lengthAdjust="spacingAndGlyphs" stroke="#2e2e2e" stroke-width="0.12">p = 0.0010</text>
<path d="M138.2,312.8 L138.2,308.6 L231.3,308.6 L231.3,312.8" fill="none" stroke="#1c1c1c" stroke-width="1.2"/>
<text x="185.1" y="304.5" font-size="6.8" text-anchor="middle" font-weight="normal" font-style="italic" fill="#2e2e2e" font-family='"Liberation Serif", serif' textLength="32.6" lengthAdjust="spacingAndGlyphs" stroke="#2e2e2e" stroke-width="0.12">p = 0.0235</text>
<path d="M195.5,362.4 L195.5,358.0 L231.7,358.0 L231.7,362.4" fill="none" stroke="#1c1c1c" stroke-width="1.2"/>
<text x="213.3" y="354.3" font-size="6.8" text-anchor="middle" font-weight="normal" font-style="italic" fill="#2e2e2e" font-family='"Liberation Serif", serif' textLength="32.8" lengthAdjust="spacingAndGlyphs" stroke="#2e2e2e" stroke-width="0.12">p = 0.0010</text>
<rect x="70.3" y="442.9" width="8.299999999999999" height="2.8" rx="0.4" fill="#9b80d8" stroke="#3b1a6e" stroke-width="1.6"/>
<text x="84.2" y="446.5" font-size="7.0" text-anchor="start" font-weight="normal" font-style="normal" fill="#000" font-family='"Liberation Serif", serif' textLength="59.1" lengthAdjust="spacingAndGlyphs" stroke="#000" stroke-width="0.14">Type 2 Pneumocytes</text>
<rect x="178.3" y="443.0" width="8.299999999999999" height="2.8" rx="0.4" fill="#1fa070" stroke="#000" stroke-width="1.6"/>
<text x="192.2" y="446.5" font-size="7.0" text-anchor="start" font-weight="normal" font-style="normal" fill="#000" font-family='"Liberation Serif", serif' textLength="64.7" lengthAdjust="spacingAndGlyphs" stroke="#000" stroke-width="0.14">Alveolar Macrophages</text>
<line x1="333.2" y1="303.2" x2="333.2" y2="422" stroke="#000" stroke-width="1.6" />
<line x1="332.4" y1="421.0" x2="510" y2="421.0" stroke="#000" stroke-width="1.6" />
<line x1="329" y1="421.3" x2="333.2" y2="421.3" stroke="#000" stroke-width="1.4" />
<text x="328.2" y="423.40000000000003" font-size="6.4" text-anchor="end" font-weight="bold" font-style="normal" fill="#000" font-family='"Liberation Serif", serif' stroke="#000" stroke-width="0.16" textLength="2.6" lengthAdjust="spacingAndGlyphs" >0</text>
<line x1="329" y1="391.90000000000003" x2="333.2" y2="391.90000000000003" stroke="#000" stroke-width="1.4" />
<text x="328.2" y="394.00000000000006" font-size="6.4" text-anchor="end" font-weight="bold" font-style="normal" fill="#000" font-family='"Liberation Serif", serif' stroke="#000" stroke-width="0.16" textLength="21" lengthAdjust="spacingAndGlyphs" >200,000</text>
<line x1="329" y1="362.5" x2="333.2" y2="362.5" stroke="#000" stroke-width="1.4" />
<text x="328.2" y="364.6" font-size="6.4" text-anchor="end" font-weight="bold" font-style="normal" fill="#000" font-family='"Liberation Serif", serif' stroke="#000" stroke-width="0.16" textLength="21" lengthAdjust="spacingAndGlyphs" >400,000</text>
<line x1="329" y1="333.1" x2="333.2" y2="333.1" stroke="#000" stroke-width="1.4" />
<text x="328.2" y="335.20000000000005" font-size="6.4" text-anchor="end" font-weight="bold" font-style="normal" fill="#000" font-family='"Liberation Serif", serif' stroke="#000" stroke-width="0.16" textLength="21" lengthAdjust="spacingAndGlyphs" >600,000</text>
<line x1="329" y1="303.70000000000005" x2="333.2" y2="303.70000000000005" stroke="#000" stroke-width="1.4" />
<text x="328.2" y="305.80000000000007" font-size="6.4" text-anchor="end" font-weight="bold" font-style="normal" fill="#000" font-family='"Liberation Serif", serif' stroke="#000" stroke-width="0.16" textLength="21" lengthAdjust="spacingAndGlyphs" >800,000</text>
<line x1="357.4" y1="421" x2="357.4" y2="424.5" stroke="#000" stroke-width="1.4" />
<text x="357.4" y="430.6" font-size="6.3" text-anchor="middle" font-weight="bold" font-style="normal" fill="#000" font-family='"Liberation Serif", serif' stroke="#000" stroke-width="0.16" >NC</text>
<line x1="393.2" y1="421" x2="393.2" y2="424.5" stroke="#000" stroke-width="1.4" />
<text x="393.2" y="430.6" font-size="6.3" text-anchor="middle" font-weight="bold" font-style="normal" fill="#000" font-family='"Liberation Serif", serif' stroke="#000" stroke-width="0.16" >IPF</text>
<line x1="452.8" y1="421" x2="452.8" y2="424.5" stroke="#000" stroke-width="1.4" />
<text x="452.8" y="430.6" font-size="6.3" text-anchor="middle" font-weight="bold" font-style="normal" fill="#000" font-family='"Liberation Serif", serif' stroke="#000" stroke-width="0.16" >NC</text>
<line x1="488.4" y1="421" x2="488.4" y2="424.5" stroke="#000" stroke-width="1.4" />
<text x="488.4" y="430.6" font-size="6.3" text-anchor="middle" font-weight="bold" font-style="normal" fill="#000" font-family='"Liberation Serif", serif' stroke="#000" stroke-width="0.16" >IPF</text>
<text x="282.5" y="264.3" font-size="7.5" text-anchor="start" font-weight="bold" font-style="normal" fill="#000" font-family='"Liberation Serif", serif' stroke="#000" stroke-width="0.16" textLength="12.7" lengthAdjust="spacingAndGlyphs" >(D).</text>
<text x="423" y="260.8" font-size="7.1" text-anchor="middle" font-weight="bold" font-style="normal" fill="#000" font-family='"Liberation Serif", serif' stroke="#000" stroke-width="0.16" textLength="169.3" lengthAdjust="spacingAndGlyphs" >ICAM–1  Expression on Type 2 Pneumocytes &amp;</text>
<text x="422.3" y="269.8" font-size="7.1" text-anchor="middle" font-weight="bold" font-style="normal" fill="#000" font-family='"Liberation Serif", serif' stroke="#000" stroke-width="0.16" textLength="80.9" lengthAdjust="spacingAndGlyphs" >Alveolar Macrophages</text>
<text x="0" y="0" font-size="7.2" text-anchor="middle" font-weight="bold" font-style="normal" fill="#000" font-family='"Liberation Serif", serif' stroke="#000" stroke-width="0.16" textLength="104" lengthAdjust="spacingAndGlyphs" transform="translate(287.6,362.5) rotate(-90)">ICAM-1 (Negative) on cells per mm<tspan font-size="5" dy="-3">2</tspan></text>
<text x="0" y="0" font-size="7.2" text-anchor="middle" font-weight="bold" font-style="normal" fill="#000" font-family='"Liberation Serif", serif' stroke="#000" stroke-width="0.16" textLength="43.9" lengthAdjust="spacingAndGlyphs" transform="translate(295.6,362.6) rotate(-90)">of alveolar area</text>
<line x1="357.2" y1="316.93" x2="357.2" y2="355.00300000000004" stroke="#000" stroke-width="1.1" />
<line x1="357.2" y1="395.134" x2="357.2" y2="408.805" stroke="#000" stroke-width="1.1" />
<line x1="350.7" y1="316.93" x2="363.7" y2="316.93" stroke="#000" stroke-width="1.1" />
<line x1="350.7" y1="408.805" x2="363.7" y2="408.805" stroke="#000" stroke-width="1.1" />
<rect x="345.5" y="355.00300000000004" width="23.4" height="40.13099999999997" fill="#f8a8a4" stroke="#000" stroke-width="1.1" />
<line x1="345.5" y1="376.318" x2="368.9" y2="376.318" stroke="#000" stroke-width="1.1" />
<rect x="355.20" y="314.93" width="4.00" height="4.00" fill="#fff" stroke="#000" stroke-width="0.9"/>
<rect x="355.20" y="335.51" width="4.00" height="4.00" fill="#fff" stroke="#000" stroke-width="0.9"/>
<rect x="355.20" y="353.15" width="4.00" height="4.00" fill="#fff" stroke="#000" stroke-width="0.9"/>
<rect x="355.20" y="374.02" width="4.00" height="4.00" fill="#fff" stroke="#000" stroke-width="0.9"/>
<rect x="355.20" y="385.05" width="4.00" height="4.00" fill="#fff" stroke="#000" stroke-width="0.9"/>
<rect x="355.20" y="391.22" width="4.00" height="4.00" fill="#fff" stroke="#000" stroke-width="0.9"/>
<rect x="355.20" y="394.75" width="4.00" height="4.00" fill="#fff" stroke="#000" stroke-width="0.9"/>
<rect x="355.20" y="397.69" width="4.00" height="4.00" fill="#fff" stroke="#000" stroke-width="0.9"/>
<rect x="355.20" y="406.81" width="4.00" height="4.00" fill="#fff" stroke="#000" stroke-width="0.9"/>
<line x1="393.4" y1="389.548" x2="393.4" y2="403.807" stroke="#000" stroke-width="1.1" />
<line x1="393.4" y1="416.15500000000003" x2="393.4" y2="421.00600000000003" stroke="#000" stroke-width="1.1" />
<line x1="386.9" y1="389.548" x2="399.9" y2="389.548" stroke="#000" stroke-width="1.1" />
<line x1="386.9" y1="421.00600000000003" x2="399.9" y2="421.00600000000003" stroke="#000" stroke-width="1.1" />
<rect x="381.29999999999995" y="403.807" width="24.2" height="12.348000000000013" fill="#f8a8a4" stroke="#000" stroke-width="1.1" />
<line x1="381.29999999999995" y1="410.569" x2="405.5" y2="410.569" stroke="#000" stroke-width="1.1" />
<rect x="391.40" y="388.43" width="4.00" height="4.00" fill="#fff" stroke="#000" stroke-width="0.9"/>
<rect x="391.40" y="401.66" width="4.00" height="4.00" fill="#fff" stroke="#000" stroke-width="0.9"/>
<rect x="391.40" y="408.28" width="4.00" height="4.00" fill="#fff" stroke="#000" stroke-width="0.9"/>
<rect x="391.40" y="412.69" width="4.00" height="4.00" fill="#fff" stroke="#000" stroke-width="0.9"/>
<rect x="391.40" y="416.36" width="4.00" height="4.00" fill="#fff" stroke="#000" stroke-width="0.9"/>
<rect x="391.40" y="418.56" width="4.00" height="4.00" fill="#fff" stroke="#000" stroke-width="0.9"/>
<line x1="452.7" y1="398.368" x2="452.7" y2="411.15700000000004" stroke="#000" stroke-width="1.1" />
<line x1="452.7" y1="417.625" x2="452.7" y2="419.97700000000003" stroke="#000" stroke-width="1.1" />
<line x1="446.2" y1="398.368" x2="459.2" y2="398.368" stroke="#000" stroke-width="1.1" />
<line x1="446.2" y1="419.97700000000003" x2="459.2" y2="419.97700000000003" stroke="#000" stroke-width="1.1" />
<rect x="440.9" y="411.15700000000004" width="23.6" height="6.467999999999961" fill="#e8e200" stroke="#000" stroke-width="1.1" />
<line x1="440.9" y1="414.538" x2="464.5" y2="414.538" stroke="#000" stroke-width="1.1" />
<circle cx="452.70" cy="399.25" r="2.0" fill="#fff" stroke="#000" stroke-width="0.9"/>
<circle cx="452.70" cy="409.54" r="2.0" fill="#fff" stroke="#000" stroke-width="0.9"/>
<circle cx="452.70" cy="411.75" r="2.0" fill="#fff" stroke="#000" stroke-width="0.9"/>
<circle cx="452.70" cy="414.69" r="2.0" fill="#fff" stroke="#000" stroke-width="0.9"/>
<circle cx="452.70" cy="417.62" r="2.0" fill="#fff" stroke="#000" stroke-width="0.9"/>
<circle cx="452.70" cy="419.83" r="2.0" fill="#fff" stroke="#000" stroke-width="0.9"/>
<line x1="488.4" y1="408.36400000000003" x2="488.4" y2="418.0954" stroke="#000" stroke-width="1.1" />
<line x1="488.4" y1="420.1975" x2="488.4" y2="421.3" stroke="#000" stroke-width="1.1" />
<line x1="481.9" y1="408.36400000000003" x2="494.9" y2="408.36400000000003" stroke="#000" stroke-width="1.1" />
<line x1="481.9" y1="421.3" x2="494.9" y2="421.3" stroke="#000" stroke-width="1.1" />
<rect x="476.59999999999997" y="418.0954" width="23.6" height="2.102100000000007" fill="#e8e200" stroke="#000" stroke-width="1.1" />
<line x1="476.59999999999997" y1="419.242" x2="500.2" y2="419.242" stroke="#000" stroke-width="1.1" />
<circle cx="488.40" cy="408.36" r="2.0" fill="#fff" stroke="#000" stroke-width="0.9"/>
<circle cx="488.40" cy="414.91" r="2.0" fill="#fff" stroke="#000" stroke-width="0.9"/>
<circle cx="488.40" cy="416.80" r="2.0" fill="#fff" stroke="#000" stroke-width="0.9"/>
<circle cx="488.40" cy="419.39" r="2.0" fill="#fff" stroke="#000" stroke-width="0.9"/>
<path d="M357.2,295.4 L357.2,291 L453.2,291 L453.2,295.4" fill="none" stroke="#1c1c1c" stroke-width="1.2"/>
<text x="404.6" y="286.9" font-size="6.8" text-anchor="middle" font-weight="normal" font-style="italic" fill="#2e2e2e" font-family='"Liberation Serif", serif' textLength="33.2" lengthAdjust="spacingAndGlyphs" stroke="#2e2e2e" stroke-width="0.12">p &lt; 0.0001</text>
<path d="M357.2,312 L357.2,307.6 L391.5,307.6 L391.5,312" fill="none" stroke="#1c1c1c" stroke-width="1.2"/>
<text x="374.1" y="304.09999999999997" font-size="6.8" text-anchor="middle" font-weight="normal" font-style="italic" fill="#2e2e2e" font-family='"Liberation Serif", serif' textLength="32" lengthAdjust="spacingAndGlyphs" stroke="#2e2e2e" stroke-width="0.12">p = 0.0004</text>
<path d="M394.5,312 L394.5,307.6 L489,307.6 L489,312" fill="none" stroke="#1c1c1c" stroke-width="1.2"/>
<text x="441.5" y="304.09999999999997" font-size="6.8" text-anchor="middle" font-weight="normal" font-style="italic" fill="#2e2e2e" font-family='"Liberation Serif", serif' textLength="32.9" lengthAdjust="spacingAndGlyphs" stroke="#2e2e2e" stroke-width="0.12">p &lt; 0.0001</text>
<path d="M452.4,391.7 L452.4,387.1 L488.8,387.1 L488.8,391.7" fill="none" stroke="#1c1c1c" stroke-width="1.2"/>
<text x="470.2" y="384.0" font-size="6.8" text-anchor="middle" font-weight="normal" font-style="italic" fill="#2e2e2e" font-family='"Liberation Serif", serif' textLength="32.5" lengthAdjust="spacingAndGlyphs" stroke="#2e2e2e" stroke-width="0.12">p = 0.0004</text>
<rect x="338.9" y="441.3" width="8.299999999999999" height="2.8" rx="0.4" fill="#f8a8a4" stroke="#000" stroke-width="1.6"/>
<text x="353.8" y="444.7" font-size="7.0" text-anchor="start" font-weight="normal" font-style="normal" fill="#000" font-family='"Liberation Serif", serif' textLength="59.1" lengthAdjust="spacingAndGlyphs" stroke="#000" stroke-width="0.14">Type 2 Pneumocytes</text>
<rect x="434.6" y="441.3" width="8.299999999999999" height="2.8" rx="0.4" fill="#e8e200" stroke="#000" stroke-width="1.6"/>
<text x="449.1" y="444.6" font-size="7.0" text-anchor="start" font-weight="normal" font-style="normal" fill="#000" font-family='"Liberation Serif", serif' textLength="65" lengthAdjust="spacingAndGlyphs" stroke="#000" stroke-width="0.14">Alveolar Macrophages</text>
</svg></body></html>
